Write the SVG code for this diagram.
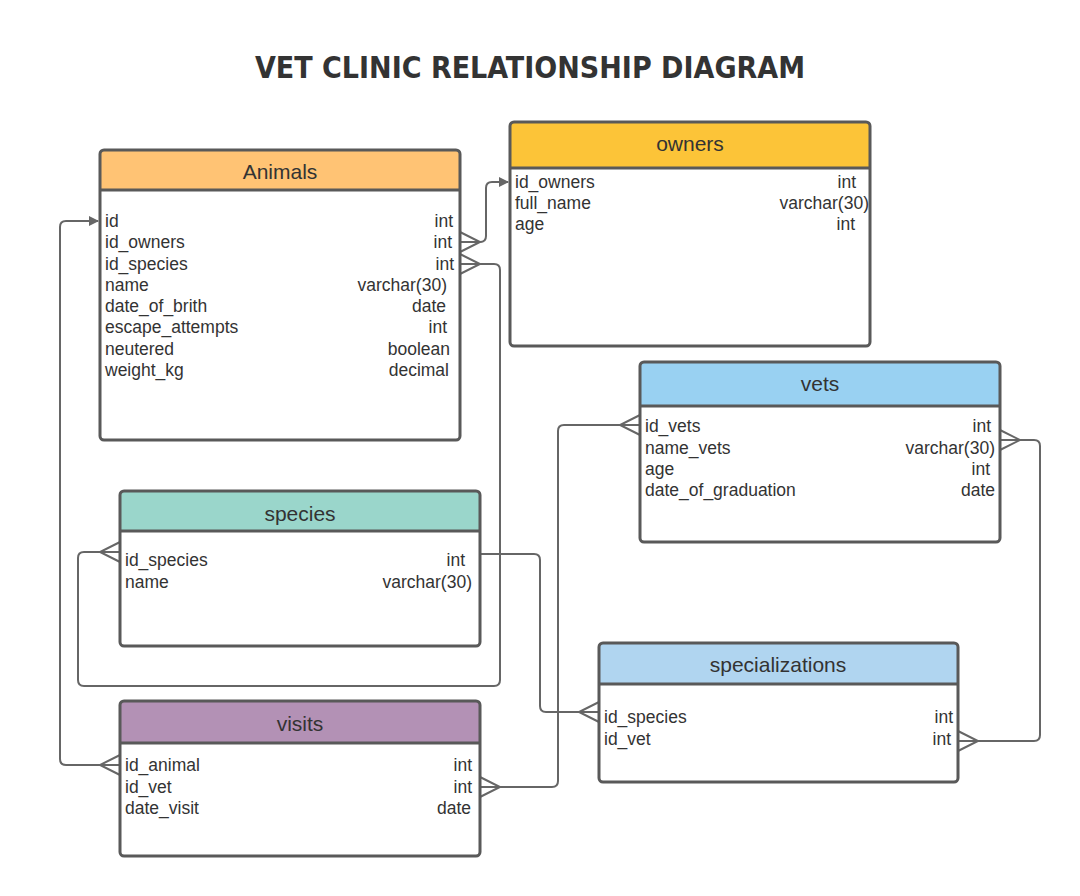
<svg xmlns="http://www.w3.org/2000/svg" width="1080" height="896" viewBox="0 0 1080 896">
<style>
.box{fill:none;stroke:#595959;stroke-width:3}
.hd{stroke:#595959;stroke-width:3}
.t{font-family:"Liberation Sans",Arial,sans-serif;font-size:17.5px;fill:#333}
.h{font-family:"Liberation Sans",Arial,sans-serif;font-size:21px;fill:#333;text-anchor:middle}
.r{text-anchor:end}
.c{fill:none;stroke:#666;stroke-width:2}
</style>
<defs><marker id="ar" viewBox="0 0 10 10" refX="9" refY="5" markerWidth="5" markerHeight="5" orient="auto"><path d="M0,0L10,5L0,10z" fill="#666"/></marker></defs>
<rect width="1080" height="896" fill="#fff"/>
<text x="530" y="78" text-anchor="middle" style="font-family:'DejaVu Sans Condensed','DejaVu Sans',sans-serif;font-weight:bold;font-size:30px;fill:#333">VET CLINIC RELATIONSHIP DIAGRAM</text>

<g id="connectors">
<path class="c" d="M460,242H480Q486,242 486,236V188Q486,182 492,182H508" marker-end="url(#ar)"/>
<path class="c" d="M460,232L480,242L460,252"/>
<path class="c" d="M460,264H494Q500,264 500,270V680Q500,686 494,686H84Q78,686 78,680V558Q78,552 84,552H120"/>
<path class="c" d="M460,254L480,264L460,274"/>
<path class="c" d="M120,542L100,552L120,562"/>
<path class="c" d="M120,765H66Q60,765 60,759V227Q60,221 66,221H98" marker-end="url(#ar)"/>
<path class="c" d="M120,755L100,765L120,775"/>
<path class="c" d="M480,554H534Q540,554 540,560V706Q540,712 546,712H599"/>
<path class="c" d="M599,702L579,712L599,722"/>
<path class="c" d="M480,787H552Q558,787 558,781V431Q558,425 564,425H640"/>
<path class="c" d="M480,777L500,787L480,797"/>
<path class="c" d="M640,415L620,425L640,435"/>
<path class="c" d="M1000,440H1034Q1040,440 1040,446V735Q1040,741 1034,741H958"/>
<path class="c" d="M1000,430L1020,440L1000,450"/>
<path class="c" d="M958,731L978,741L958,751"/>
</g>

<g id="animals">
<rect x="100" y="150" width="360" height="290" rx="4" fill="#fff"/>
<path d="M104,150H456Q460,150 460,154V190H100V154Q100,150 104,150Z" fill="#ffc374"/>
<rect class="box" x="100" y="150" width="360" height="290" rx="4"/>
<line class="hd" x1="100" y1="190" x2="460" y2="190"/>
<text class="h" x="280" y="179">Animals</text>
<text class="t" x="105" y="227">id</text><text class="t r" x="453" y="227">int</text>
<text class="t" x="105" y="248">id_owners</text><text class="t r" x="452" y="248">int</text>
<text class="t" x="105" y="270">id_species</text><text class="t r" x="454" y="270">int</text>
<text class="t" x="105" y="291">name</text><text class="t r" x="447" y="291">varchar(30)</text>
<text class="t" x="105" y="312">date_of_brith</text><text class="t r" x="446" y="312">date</text>
<text class="t" x="105" y="333">escape_attempts</text><text class="t r" x="447" y="333">int</text>
<text class="t" x="105" y="355">neutered</text><text class="t r" x="450" y="355">boolean</text>
<text class="t" x="105" y="376">weight_kg</text><text class="t r" x="449" y="376">decimal</text>
</g>

<g id="owners">
<rect x="510" y="122" width="360" height="224" rx="4" fill="#fff"/>
<path d="M514,122H866Q870,122 870,126V168H510V126Q510,122 514,122Z" fill="#fcc438"/>
<rect class="box" x="510" y="122" width="360" height="224" rx="4"/>
<line class="hd" x1="510" y1="168" x2="870" y2="168"/>
<text class="h" x="690" y="151">owners</text>
<text class="t" x="515" y="188">id_owners</text><text class="t r" x="856" y="188">int</text>
<text class="t" x="515" y="209">full_name</text><text class="t r" x="869" y="209">varchar(30)</text>
<text class="t" x="515" y="230">age</text><text class="t r" x="855" y="230">int</text>
</g>

<g id="vets">
<rect x="640" y="362" width="360" height="180" rx="4" fill="#fff"/>
<path d="M644,362H996Q1000,362 1000,366V406H640V366Q640,362 644,362Z" fill="#99d1f2"/>
<rect class="box" x="640" y="362" width="360" height="180" rx="4"/>
<line class="hd" x1="640" y1="406" x2="1000" y2="406"/>
<text class="h" x="820" y="391">vets</text>
<text class="t" x="645" y="432">id_vets</text><text class="t r" x="991" y="432">int</text>
<text class="t" x="645" y="454">name_vets</text><text class="t r" x="995" y="454">varchar(30)</text>
<text class="t" x="645" y="475">age</text><text class="t r" x="990" y="475">int</text>
<text class="t" x="645" y="496">date_of_graduation</text><text class="t r" x="995" y="496">date</text>
</g>

<g id="species">
<rect x="120" y="491" width="360" height="155" rx="4" fill="#fff"/>
<path d="M124,491H476Q480,491 480,495V531H120V495Q120,491 124,491Z" fill="#9ad6cb"/>
<rect class="box" x="120" y="491" width="360" height="155" rx="4"/>
<line class="hd" x1="120" y1="531" x2="480" y2="531"/>
<text class="h" x="300" y="521">species</text>
<text class="t" x="125" y="566">id_species</text><text class="t r" x="465" y="566">int</text>
<text class="t" x="125" y="588">name</text><text class="t r" x="472" y="588">varchar(30)</text>
</g>

<g id="specializations">
<rect x="599" y="643" width="359" height="139" rx="4" fill="#fff"/>
<path d="M603,643H954Q958,643 958,647V684H599V647Q599,643 603,643Z" fill="#b0d5f0"/>
<rect class="box" x="599" y="643" width="359" height="139" rx="4"/>
<line class="hd" x1="599" y1="684" x2="958" y2="684"/>
<text class="h" x="778" y="672">specializations</text>
<text class="t" x="604" y="723">id_species</text><text class="t r" x="953" y="723">int</text>
<text class="t" x="604" y="745">id_vet</text><text class="t r" x="951" y="745">int</text>
</g>

<g id="visits">
<rect x="120" y="701" width="360" height="155" rx="4" fill="#fff"/>
<path d="M124,701H476Q480,701 480,705V743H120V705Q120,701 124,701Z" fill="#b391b5"/>
<rect class="box" x="120" y="701" width="360" height="155" rx="4"/>
<line class="hd" x1="120" y1="743" x2="480" y2="743"/>
<text class="h" x="300" y="731">visits</text>
<text class="t" x="125" y="771">id_animal</text><text class="t r" x="472" y="771">int</text>
<text class="t" x="125" y="793">id_vet</text><text class="t r" x="472" y="793">int</text>
<text class="t" x="125" y="814">date_visit</text><text class="t r" x="471" y="814">date</text>
</g>
</svg>
